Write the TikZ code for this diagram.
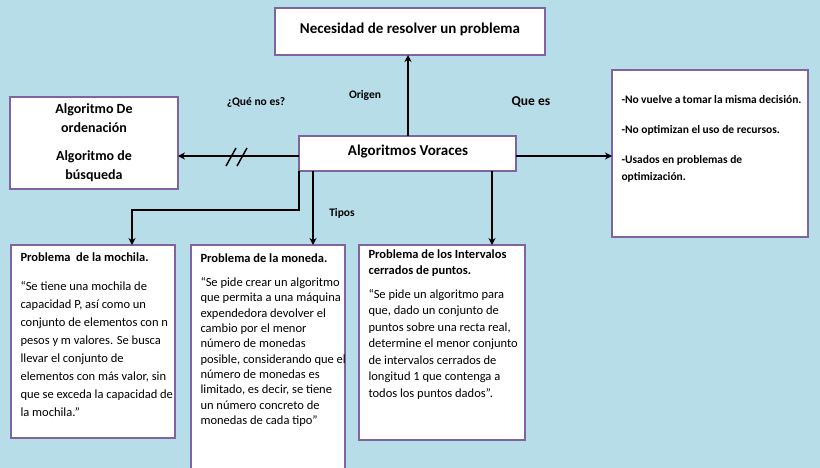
\documentclass[tikz,border=0pt]{standalone}
\usepackage{fontspec}
\setmainfont{Carlito}
\usetikzlibrary{arrows.meta}
\begin{document}
\begin{tikzpicture}[x=1pt,y=-1pt,
 box/.style={draw=boxc,line width=1.8pt,fill=white},
 arr/.style={line width=1.5pt,-{Stealth[length=7pt,width=7pt]}},
 lbl/.style={font=\fontsize{11.5}{13}\selectfont\bfseries},
 txt/.style={font=\fontsize{12.5}{18}\selectfont,align=flush left,anchor=north west}]
\definecolor{bg}{HTML}{B7DDE8}\definecolor{boxc}{HTML}{8064A2}
\useasboundingbox[fill=bg] (0,0) rectangle (820,468);
\path[box] (275,8) rectangle (545,55);
\node (top) at (410,29) {\fontsize{15}{17}\selectfont\bfseries Necesidad de resolver un problema};
\coordinate (topb) at (408,55);
\path[box] (10,97) rectangle (178,189);
\node[align=center,font=\fontsize{14}{19}\selectfont\bfseries] (left) at (94,143) {Algoritmo De\\ordenación\\[9pt]Algoritmo de\\búsqueda};
\coordinate (leftr) at (178,156);
\path[box] (299,136) rectangle (516,171);
\node (ctr) at (408,152) {\fontsize{15}{17}\selectfont\bfseries Algoritmos Voraces};
\path[box] (612,70) rectangle (808,237);
\node[txt,font=\fontsize{11.5}{17}\selectfont\bfseries,text width=180] (right) at (618,92) {-No vuelve a tomar la misma decisión.\\[13pt]-No optimizan el uso de recursos.\\[13pt]-Usados en problemas de optimización.};
\coordinate (rightl) at (612,156);
\path[box] (11,245) rectangle (175,438);
\node[txt,text width=156] (b1) at (17,249) {\textbf{Problema\ \ de la mochila.}\\[11pt]“Se tiene una mochila de capacidad P, así como un conjunto de elementos con n pesos y m valores. Se busca llevar el conjunto de elementos con más valor, sin que se exceda la capacidad de la mochila.”};
\path[box] (191,245) rectangle (345,475);
\node[txt,text width=146,font=\fontsize{12.5}{15.3}\selectfont] (b2) at (197,250) {\textbf{Problema de la moneda.}\\[9pt]“Se pide crear un algoritmo que permita a una máquina expendedora devolver el cambio por el menor número de monedas posible, considerando que el número de monedas es limitado, es decir, se tiene un número concreto de monedas de cada tipo”};
\path[box] (359,245) rectangle (525,440);
\node[txt,text width=156,font=\fontsize{12.5}{16.5}\selectfont] (b3) at (365,246) {\textbf{Problema de los Intervalos cerrados de puntos.}\\[7pt]“Se pide un algoritmo para que, dado un conjunto de puntos sobre una recta real, determine el menor conjunto de intervalos cerrados de longitud 1 que contenga a todos los puntos dados”.};
\draw[arr] (408,136) -- (topb);
\draw[arr] (299,156) -- (leftr);
\draw[line width=1.5pt] (226,166) -- (236,148) (237,166) -- (247,148);
\draw[arr] (516,156) -- (rightl);
\draw[arr] (299,171) -- (299,210) -- (132,210) -- (132,245);
\draw[arr] (313,171) -- (313,245);
\draw[arr] (492,171) -- (492,245);
\node[lbl] (l1) at (256,102) {¿Qué no es?};
\node[lbl] (l2) at (365,95) {Origen};
\node[lbl,font=\fontsize{13.5}{15}\selectfont\bfseries] (l3) at (531,102) {Que es};
\node[lbl] (l4) at (342,213) {Tipos};
\end{tikzpicture}
\end{document}
